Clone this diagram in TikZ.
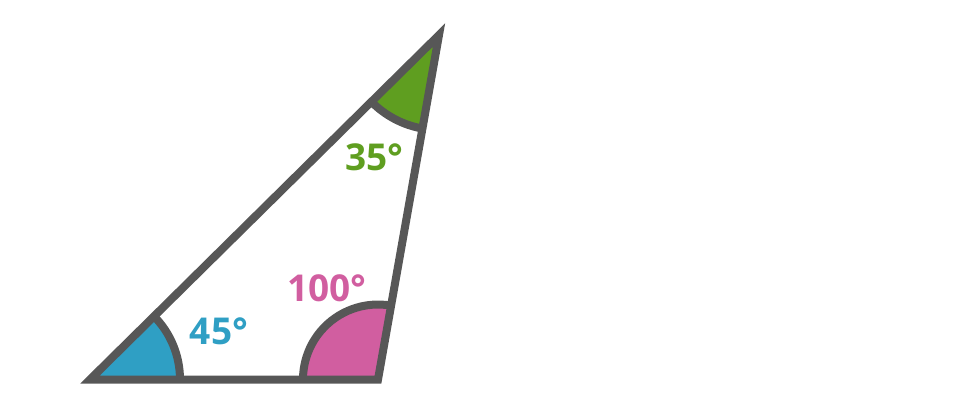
\documentclass[tikz,border=0pt]{standalone}
\usepackage{fontspec}
\setmainfont{Open Sans}
\usetikzlibrary{angles}
\definecolor{edgegray}{HTML}{575757}
\definecolor{anglblue}{HTML}{2F9FC4}
\definecolor{anglpink}{HTML}{D15EA0}
\definecolor{anglgreen}{HTML}{5F9E20}
\begin{document}
\begin{tikzpicture}[x=1pt,y=-1pt,every node/.style={inner sep=0pt,font=\fontsize{37}{42}\selectfont\bfseries}]
  \useasboundingbox (0,0) rectangle (976,416);

  % Specification of vertices (position, etc.)
  \coordinate (a) at (90,379.5);
  \coordinate (b) at (378,379.5);
  \coordinate (c) at (439,35);

  \begin{scope}[line width=8pt,draw=edgegray]
    \pic[draw,fill=anglblue,angle radius=90pt] {angle=b--a--c};
    \pic[draw,fill=anglpink,angle radius=75pt] {angle=c--b--a};
    \pic[draw,fill=anglgreen,angle radius=95pt] {angle=a--c--b};
    \draw[line join=miter] (a) -- (b) -- (c) -- cycle;
  \end{scope}

  \node[text=anglblue] (la) at (219,331) {45°};
  \node[text=anglpink] (lb) at (327,288) {100°};
  \node[text=anglgreen] (lc) at (374.5,157.5) {35°};

\end{tikzpicture}
\end{document}
